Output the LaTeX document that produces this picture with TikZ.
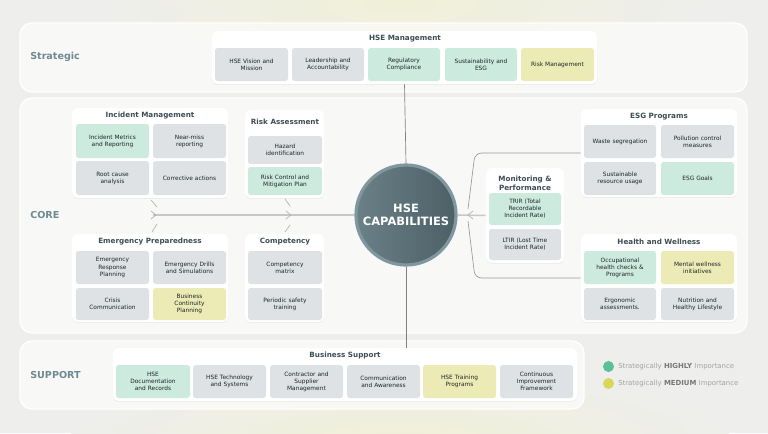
\documentclass[tikz,border=0pt]{standalone}
\usepackage{fontspec}
\setmainfont{DejaVu Sans}
\usetikzlibrary{shadows}
\definecolor{bg}{HTML}{EEEEEC}
\definecolor{glow}{HTML}{F0F0D8}
\definecolor{cgray}{HTML}{DEE2E5}
\definecolor{cgreen}{HTML}{CDEADF}
\definecolor{cyellow}{HTML}{ECEBB5}
\definecolor{lbl}{HTML}{6E8A91}
\definecolor{ttl}{HTML}{3D4D53}
\definecolor{txt}{HTML}{1E2426}
\definecolor{capin}{HTML}{6A8187}
\definecolor{capout}{HTML}{4C6066}
\definecolor{capring}{HTML}{80979D}
\definecolor{legg}{HTML}{5BBF98}
\definecolor{legy}{HTML}{D9D75A}
\definecolor{legt}{HTML}{A3A3A3}
\definecolor{legb}{HTML}{777777}
\tikzset{
  panel/.style={fill=white, fill opacity=0.6, draw=white, line width=1pt, rounded corners=9pt},
  card/.style={fill=white, draw=none, rounded corners=4pt, inner sep=0pt,
    drop shadow={shadow xshift=0pt, shadow yshift=-0.7pt, opacity=0.10}},
  cell/.style={draw=none, rounded corners=2pt, inner sep=0pt, align=center, text=txt,
    font=\fontsize{4.4}{5.3}\selectfont},
  cardtitle/.style={font=\fontsize{5.4}{6.6}\selectfont\bfseries, text=ttl, inner sep=0pt, align=center},
  layerlbl/.style={font=\fontsize{7.2}{8}\selectfont\bfseries, text=lbl, anchor=west, inner sep=0pt},
  spine/.style={draw=black!22, line width=1.1pt},
  rib/.style={draw=black!30, line width=0.5pt},
  vline/.style={draw=black!50, line width=0.5pt},
  branch/.style={draw=black!40, line width=0.5pt, rounded corners=5pt},
}
\newcommand\cellnode[7]{%
  \pgfmathsetmacro\cw{(#4-#2)*0.75}%
  \pgfmathsetmacro\ch{(#5-#3)*0.75}%
  \pgfmathsetmacro\tw{(#4-#2)*0.75-5}%
  \node[cell, fill=#6, minimum width=\cw pt, minimum height=\ch pt, text width=\tw pt] (#1) at ({(#2+#4)/2},{(#3+#5)/2}) {#7};}
\newcommand\cardnode[5]{%
  \pgfmathsetmacro\cw{(#4-#2)*0.75}%
  \pgfmathsetmacro\ch{(#5-#3)*0.75}%
  \node[card, minimum width=\cw pt, minimum height=\ch pt] (#1) at ({(#2+#4)/2},{(#3+#5)/2}) {};}
\begin{document}
\begin{tikzpicture}[x=0.75pt,y=-0.75pt]
\useasboundingbox (0,0) rectangle (768,433);
\begin{scope}
\clip (0,0) rectangle (768,433);
\fill[bg] (0,0) rectangle (768,433);
\shade[inner color=glow, outer color=bg] (400,5) ellipse (300 and 70);
\shade[inner color=glow, outer color=bg] (400,440) ellipse (330 and 70);
\end{scope}

% layer panels
\draw[panel] (20,23) rectangle (747,92);
\draw[panel] (20,98) rectangle (747,333);
\draw[panel] (20,341) rectangle (584,409);
\node[layerlbl] (lstrat) at (30,57) {Strategic};
\node[layerlbl] (lcore) at (30,215) {CORE};
\node[layerlbl] (lsup) at (30,375) {SUPPORT};

% cards
\cardnode{hsem}{212}{31}{597}{84}
\cardnode{incm}{72}{108}{228}{198}
\cardnode{riska}{245}{110}{324}{198}
\cardnode{emerg}{72}{234}{228}{322}
\cardnode{comp}{245}{234}{324}{322}
\cardnode{mon}{486}{168}{564}{263}
\cardnode{esg}{581}{109}{737}{197}
\cardnode{hw}{581}{234}{737}{322}
\cardnode{bsup}{113}{348}{577}{401}

% central circle
\node[circle, minimum size=75pt, inner sep=0pt, draw=capring, line width=2.4pt,
  shading angle=135, left color=capin, right color=capout] (cap) at (406,215) {};
\node[font=\fontsize{8.6}{10.2}\selectfont\bfseries, text=white, align=center, inner sep=0pt] (captxt) at (cap.center) {HSE\\CAPABILITIES};

% connectors
\draw[vline] (hsem.south) -- (cap.north);
\draw[vline] (cap.south) -- (cap.south |- bsup.north);
\coordinate (lspine) at (153,215);
\draw[spine] (lspine) -- (cap.west);
\draw[spine] (cap.east) -- (mon.west);
% left fishbone ribs and chevrons
\draw[rib] (151,211) -- (156,215) -- (151,219);
\draw[rib] (151,200) -- (157,207);
\draw[rib] (157,224) -- (152,232);
\draw[rib] (286,211) -- (291,215) -- (286,219);
\draw[rib] (285,199) -- (290,206);
\draw[rib] (290,225) -- (285,232);
% right branches
\draw[rib] (473,211) -- (468,215) -- (473,219);
\draw[branch] (468,209) -- (475,153) -- (esg.west);
\draw[branch] (468,221) -- (475,278) -- (hw.west);

% HSE Management
\node[cardtitle] (t-hsem) at (405,38.5) {HSE Management};
\cellnode{c11}{215}{48}{288}{81}{cgray}{HSE Vision and\\Mission}
\cellnode{c12}{292}{48}{364}{81}{cgray}{Leadership and\\Accountability}
\cellnode{c13}{368}{48}{440}{81}{cgreen}{Regulatory\\Compliance}
\cellnode{c14}{445}{48}{517}{81}{cgreen}{Sustainability and\\ESG}
\cellnode{c15}{521}{48}{594}{81}{cyellow}{Risk Management}

% Incident Management
\node[cardtitle] (t-incm) at (150,116) {Incident Management};
\cellnode{c21}{76}{124}{149}{158}{cgreen}{Incident Metrics\\and Reporting}
\cellnode{c22}{153}{124}{226}{158}{cgray}{Near-miss\\reporting}
\cellnode{c23}{76}{161}{149}{195}{cgray}{Root cause\\analysis}
\cellnode{c24}{153}{161}{226}{195}{cgray}{Corrective actions}

% Risk Assessment
\node[cardtitle] (t-riska) at (285,122) {Risk Assessment};
\cellnode{c31}{248}{136}{322}{164}{cgray}{Hazard\\identification}
\cellnode{c32}{248}{167}{322}{195}{cgreen}{Risk Control and\\Mitigation Plan}

% Emergency Preparedness
\node[cardtitle] (t-emerg) at (150,242) {Emergency Preparedness};
\cellnode{c41}{76}{251}{149}{284}{cgray}{Emergency\\Response\\Planning}
\cellnode{c42}{153}{251}{226}{284}{cgray}{Emergency Drills\\and Simulations}
\cellnode{c43}{76}{288}{149}{320}{cgray}{Crisis\\Communication}
\cellnode{c44}{153}{288}{226}{320}{cyellow}{Business\\Continuity\\Planning}

% Competency
\node[cardtitle] (t-comp) at (285,242) {Competency};
\cellnode{c51}{248}{251}{322}{284}{cgray}{Competency\\matrix}
\cellnode{c52}{248}{288}{322}{320}{cgray}{Periodic safety\\training}

% Monitoring & Performance
\node[cardtitle] (t-mon) at (525,183) {Monitoring \&\\Performance};
\cellnode{c61}{489}{193}{561}{225}{cgreen}{TRIR (Total\\Recordable\\Incident Rate)}
\cellnode{c62}{489}{229}{561}{260}{cgray}{LTIR (Lost Time\\Incident Rate)}

% ESG Programs
\node[cardtitle] (t-esg) at (659,116.5) {ESG Programs};
\cellnode{c71}{584}{125}{656}{158}{cgray}{Waste segregation}
\cellnode{c72}{661}{125}{734}{158}{cgray}{Pollution control\\measures}
\cellnode{c73}{584}{162}{656}{195}{cgray}{Sustainable\\resource usage}
\cellnode{c74}{661}{162}{734}{195}{cgreen}{ESG Goals}

% Health and Wellness
\node[cardtitle] (t-hw) at (659,242) {Health and Wellness};
\cellnode{c81}{584}{251}{656}{284}{cgreen}{Occupational\\health checks \&\\Programs}
\cellnode{c82}{661}{251}{734}{284}{cyellow}{Mental wellness\\initiatives}
\cellnode{c83}{584}{288}{656}{320}{cgray}{Ergonomic\\assessments.}
\cellnode{c84}{661}{288}{734}{320}{cgray}{Nutrition and\\Healthy Lifestyle}

% Business Support
\node[cardtitle] (t-bsup) at (345,356) {Business Support};
\cellnode{c91}{116}{365}{190}{398}{cgreen}{HSE\\Documentation\\and Records}
\cellnode{c92}{193}{365}{266}{398}{cgray}{HSE Technology\\and Systems}
\cellnode{c93}{270}{365}{343}{398}{cgray}{Contractor and\\Supplier\\Management}
\cellnode{c94}{347}{365}{420}{398}{cgray}{Communication\\and Awareness}
\cellnode{c95}{423}{365}{496}{398}{cyellow}{HSE Training\\Programs}
\cellnode{c96}{500}{365}{573}{398}{cgray}{Continuous\\Improvement\\Framework}

% legend
\node[circle, fill=legg, minimum size=8.3pt, inner sep=0pt] (lg1) at (608.5,366.5) {};
\node[circle, fill=legy, minimum size=8.3pt, inner sep=0pt] (lg2) at (608.5,383.5) {};
\node[anchor=west, inner sep=0pt, text=legt, font=\fontsize{5.2}{6}\selectfont] (lg1t) at (618,366.5) {Strategically \textcolor{legb}{\bfseries HIGHLY} Importance};
\node[anchor=west, inner sep=0pt, text=legt, font=\fontsize{5.2}{6}\selectfont] (lg2t) at (618,383.5) {Strategically \textcolor{legb}{\bfseries MEDIUM} Importance};
\end{tikzpicture}
\end{document}
